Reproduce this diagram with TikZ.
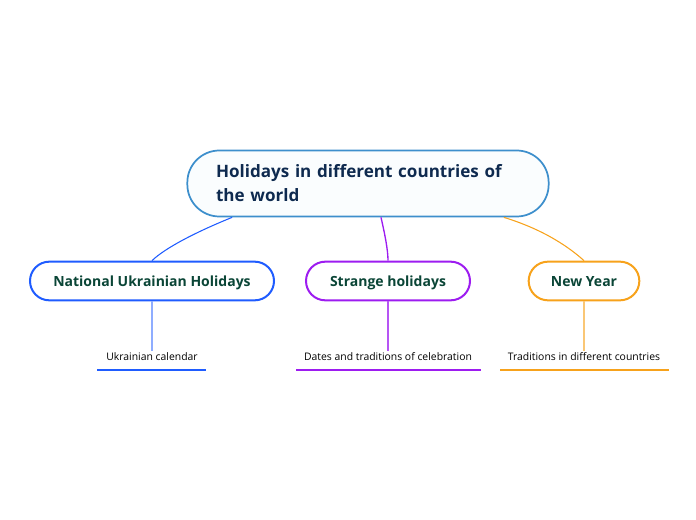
\documentclass[tikz,border=0pt]{standalone}
\usepackage{fontspec}
\setmainfont{Open Sans}
\usetikzlibrary{positioning}
\definecolor{titleblue}{HTML}{0E2A4F}
\definecolor{textgreen}{HTML}{0A4536}
\definecolor{mainline}{HTML}{3D8FCC}
\definecolor{mainfill}{HTML}{FAFDFE}
\definecolor{natblue}{HTML}{1F5CFF}
\definecolor{strpurple}{HTML}{9D1CF0}
\definecolor{nyorange}{HTML}{F7A21B}
\tikzset{
  topic/.style={draw=#1, line width=1.5pt, rounded corners=14.5pt, fill=white,
    minimum height=29pt, inner xsep=6pt, text height=7.6pt, text depth=0pt,
    font=\bfseries\fontsize{10.5}{12}\selectfont, text=textgreen},
  leaf/.style={font=\fontsize{7.8}{9}\selectfont, text=black, inner sep=1pt},
  bar/.style={line width=2.2pt, draw=#1}
}
\begin{document}
\begin{tikzpicture}[x=0.75pt,y=-0.75pt]
\useasboundingbox (0,0) rectangle (696,520);
\node[draw=mainline, line width=1.3pt, fill=mainfill, rounded corners=24pt,
  minimum width=271pt, minimum height=49.5pt, text width=228pt, align=left,
  font=\bfseries\fontsize{12.8}{18}\selectfont, text=titleblue]
  (main) at (368,183.5) {Holidays in different countries of\\the world};

\node[topic=natblue, minimum width=183pt] (nat) at (152,281) {National Ukrainian Holidays};
\node[topic=strpurple, minimum width=123pt] (str) at (388,281) {Strange holidays};
\node[topic=nyorange, minimum width=83pt] (ny) at (584,281) {New Year};

\draw[natblue, line width=0.8pt] (main.194.3) .. controls (196,232) and (165,248) .. (nat.north);
\draw[strpurple, line width=1pt] (main.291.5) .. controls (385,235) and (388,250) .. (str.north);
\draw[nyorange, line width=0.8pt] (main.346.6) .. controls (545,230) and (570,248) .. (ny.north);

% leaves
\node[leaf] (cal) at (152,357) {Ukrainian calendar};
\node[leaf] (dat) at (388,357) {Dates and traditions of celebration};
\node[leaf] (tra) at (584,357) {Traditions in different countries};

\coordinate (calL) at (97,370); \coordinate (calR) at (206,370);
\coordinate (datL) at (296,370); \coordinate (datR) at (481,370);
\coordinate (traL) at (500,370); \coordinate (traR) at (669,370);

\draw[natblue!50, line width=0.8pt] (nat.south) -- (cal.north);
\draw[strpurple!75, line width=0.8pt] (str.south) -- (dat.north);
\draw[nyorange!60, line width=0.8pt] (ny.south) -- (tra.north);

\draw[bar=natblue] (calL) -- (calR);
\draw[bar=strpurple] (datL) -- (datR);
\draw[bar=nyorange] (traL) -- (traR);
\end{tikzpicture}
\end{document}
